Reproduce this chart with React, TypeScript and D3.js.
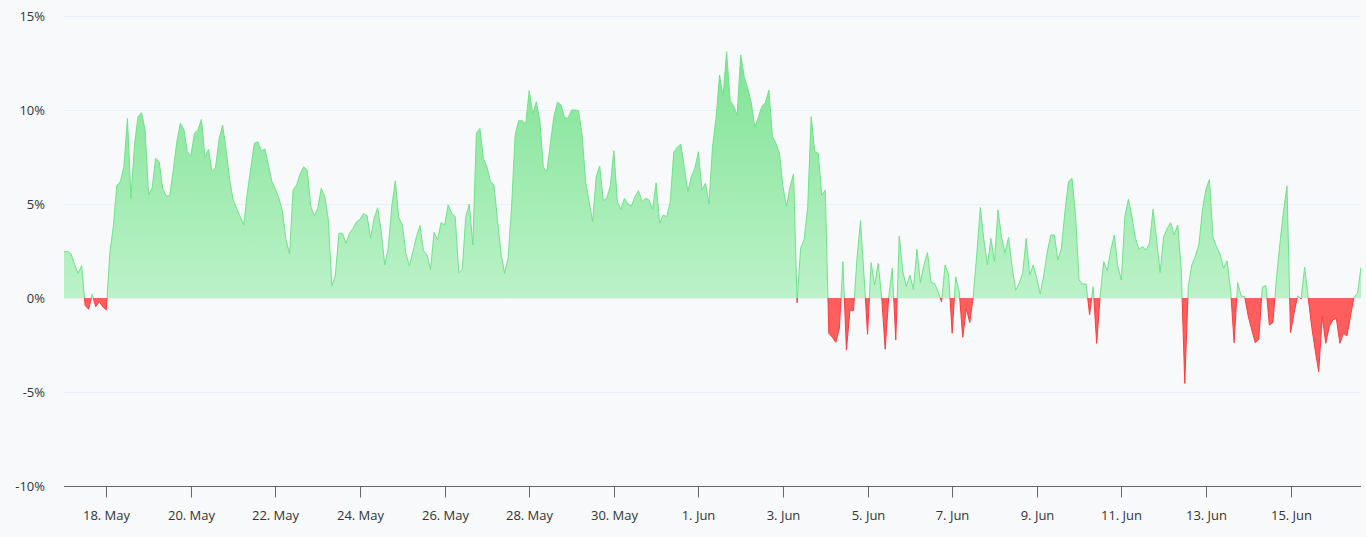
import React, { useEffect, useRef } from "react";
import * as d3 from "d3";

// 2-hourly return (%) readings, one row per day starting 17 May 00:00
const startDate = new Date(2024, 4, 17, 0, 0);
const stepHours = 2;

const dailyReturns: number[][] = [
  [2.46, 2.47, 2.34, 1.8, 1.31, 1.72, -0.4, -0.6, 0.2, -0.46, -0.2, -0.46], // 17 May
  [-0.64, 2.38, 3.8, 6.0, 6.19, 7.0, 9.55, 5.3, 8.14, 9.65, 9.86, 8.94], // 18 May
  [5.48, 5.83, 7.43, 7.25, 5.83, 5.43, 5.44, 6.8, 8.3, 9.29, 8.97, 7.78], // 19 May
  [7.55, 8.76, 8.94, 9.5, 7.48, 7.91, 6.72, 6.95, 8.44, 9.2, 7.87, 6.28], // 20 May
  [5.21, 4.77, 4.33, 3.88, 5.57, 6.9, 8.23, 8.31, 7.82, 7.93, 7.07, 6.19], // 21 May
  [5.78, 5.3, 4.59, 3.09, 2.34, 5.74, 6.01, 6.6, 6.98, 6.8, 4.89, 4.36], // 22 May
  [4.77, 5.83, 5.39, 4.15, 0.64, 1.22, 3.44, 3.44, 2.91, 3.44, 3.7, 4.06], // 23 May
  [4.18, 4.5, 4.36, 3.17, 4.24, 4.8, 3.53, 1.76, 2.64, 4.86, 6.24, 4.27], // 24 May
  [3.88, 2.38, 1.7, 2.46, 3.26, 3.85, 2.52, 2.29, 1.52, 3.49, 3.09, 4.01], // 25 May
  [3.88, 4.95, 4.5, 4.33, 1.35, 1.52, 4.33, 5.0, 2.82, 8.76, 9.02, 7.43], // 26 May
  [6.98, 6.19, 6.01, 4.15, 2.38, 1.31, 2.11, 4.86, 8.67, 9.43, 9.43, 9.26], // 27 May
  [11.03, 9.79, 10.44, 9.47, 6.95, 6.72, 8.23, 9.65, 10.41, 10.27, 9.61, 9.56], // 28 May
  [10.0, 10.0, 9.96, 8.67, 6.19, 5.12, 4.06, 6.45, 7.02, 5.18, 5.3, 5.96], // 29 May
  [7.84, 5.12, 4.72, 5.3, 5.0, 4.89, 5.39, 5.71, 5.12, 5.3, 5.21, 4.72], // 30 May
  [6.13, 3.97, 4.41, 4.33, 5.1, 7.73, 8.01, 8.19, 6.95, 5.66, 6.45, 6.9], // 31 May
  [7.78, 5.74, 6.1, 5.0, 8.05, 9.56, 11.86, 10.74, 13.1, 10.5, 10.21, 9.73], // 1 Jun
  [12.93, 11.77, 11.15, 10.39, 9.08, 9.61, 10.18, 10.39, 11.06, 8.58, 8.23, 7.7], // 2 Jun
  [5.92, 4.86, 5.92, 6.6, -0.25, 2.64, 3.12, 4.8, 9.65, 7.78, 7.7, 5.48], // 3 Jun
  [5.74, -1.88, -2.09, -2.36, -1.61, 1.93, -2.77, -0.64, -0.67, 2.11, 4.11, 1.13], // 4 Jun
  [-1.93, 1.88, 0.69, 1.84, 0.05, -2.73, 0.05, 1.58, -2.23, 3.3, 1.4, 0.6], // 5 Jun
  [1.22, 0.46, 2.59, 0.82, 1.76, 2.41, 0.82, 0.78, 0.34, -0.2, 1.76, 1.22], // 6 Jun
  [-1.88, 1.13, 0.34, -2.09, -0.55, -1.31, 0.1, 2.38, 4.82, 3.09, 1.76, 3.17], // 7 Jun
  [1.93, 4.68, 3.26, 2.38, 3.23, 1.67, 0.41, 0.78, 1.31, 3.17, 1.22, 1.76], // 8 Jun
  [1.05, 0.21, 1.22, 2.46, 3.35, 3.35, 2.02, 2.64, 4.59, 6.19, 6.37, 4.41], // 9 Jun
  [0.96, 0.74, 0.74, -0.9, 0.6, -2.41, 0.1, 1.93, 1.45, 2.55, 3.35, 1.67], // 10 Jun
  [0.96, 4.33, 5.25, 4.33, 3.17, 2.59, 2.73, 2.55, 2.91, 4.72, 3.12, 1.35], // 11 Jun
  [3.26, 3.7, 4.01, 3.35, 3.88, 1.49, -4.54, 0.6, 1.76, 2.23, 2.82, 4.68], // 12 Jun
  [5.78, 6.31, 3.23, 2.73, 2.34, 1.58, 1.98, 0.43, -2.38, 0.82, 0.11, 0.07], // 13 Jun
  [-0.96, -1.7, -2.38, -2.2, 0.57, 0.67, -1.44, -1.31, 1.0, 2.9, 4.6, 5.96], // 14 Jun
  [-1.84, -0.82, 0.11, -0.05, 1.63, 0.05, -1.52, -2.77, -3.92, -0.99, -2.41, -1.52], // 15 Jun
  [-1.17, -1.08, -2.41, -1.88, -2.02, -0.99, 0.04, 0.25, 1.63], // 16 Jun
];

const yTicks = [-10, -5, 0, 5, 10, 15];
const xTickDates = [
  "2024-05-18", "2024-05-20", "2024-05-22", "2024-05-24", "2024-05-26",
  "2024-05-28", "2024-05-30", "2024-06-01", "2024-06-03", "2024-06-05",
  "2024-06-07", "2024-06-09", "2024-06-11", "2024-06-13", "2024-06-15",
];
const endDate = new Date(2024, 5, 16, 16, 0);

interface Point {
  date: Date;
  value: number;
}

export default function App() {
  const svgRef = useRef<SVGSVGElement | null>(null);

  useEffect(() => {
    if (!svgRef.current) return;
    const width = 1366;
    const height = 537;
    const margin = { top: 16, right: 5, bottom: 51, left: 64 };

    const svg = d3.select(svgRef.current);
    svg.selectAll("*").remove();
    svg.attr("width", width).attr("height", height);

    const data: Point[] = dailyReturns.flat().map((v, i) => ({
      date: d3.timeHour.offset(startDate, i * stepHours),
      value: v,
    }));

    const x = d3.scaleTime()
      .domain([startDate, endDate])
      .range([margin.left, width - margin.right]);

    const y = d3.scaleLinear()
      .domain([-10, 15])
      .range([height - margin.bottom, margin.top]);

    svg.append("rect")
      .attr("width", width)
      .attr("height", height)
      .attr("fill", "#f8f9fb");

    // Grid
    svg.append("g")
      .selectAll("line")
      .data(yTicks.filter((t) => t !== -10))
      .join("line")
      .attr("x1", margin.left)
      .attr("x2", width - margin.right)
      .attr("y1", (d) => Math.round(y(d)) + 0.5)
      .attr("y2", (d) => Math.round(y(d)) + 0.5)
      .attr("stroke", "#e6eef8")
      .attr("stroke-width", 1);

    // Y labels
    svg.append("g")
      .selectAll("text")
      .data(yTicks)
      .join("text")
      .attr("x", 45)
      .attr("y", (d) => y(d) + 4.5)
      .attr("text-anchor", "end")
      .attr("fill", "#333")
      .style("font-family", "'Open Sans', 'Noto Sans', sans-serif")
      .style("font-size", "13px")
      .text((d) => `${d}%`);

    const zeroY = y(0);
    const defs = svg.append("defs");

    const grad = defs.append("linearGradient")
      .attr("id", "greenFill")
      .attr("gradientUnits", "userSpaceOnUse")
      .attr("x1", 0).attr("x2", 0)
      .attr("y1", y(13.2)).attr("y2", zeroY);
    grad.append("stop").attr("offset", "0%").attr("stop-color", "#7fe394");
    grad.append("stop").attr("offset", "100%").attr("stop-color", "#bcf2c9");

    defs.append("clipPath").attr("id", "above")
      .append("rect")
      .attr("x", margin.left).attr("y", 0)
      .attr("width", width - margin.left - margin.right)
      .attr("height", zeroY);
    defs.append("clipPath").attr("id", "below")
      .append("rect")
      .attr("x", margin.left).attr("y", zeroY)
      .attr("width", width - margin.left - margin.right)
      .attr("height", height - margin.bottom - zeroY);

    const area = d3.area<Point>()
      .x((d) => x(d.date))
      .y0(zeroY)
      .y1((d) => y(d.value));

    const line = d3.line<Point>()
      .x((d) => x(d.date))
      .y((d) => y(d.value));

    // Positive zone
    svg.append("path")
      .datum(data)
      .attr("clip-path", "url(#above)")
      .attr("fill", "url(#greenFill)")
      .attr("d", area);
    svg.append("path")
      .datum(data)
      .attr("clip-path", "url(#above)")
      .attr("fill", "none")
      .attr("stroke", "#6ee388")
      .attr("stroke-width", 1)
      .attr("stroke-linejoin", "round")
      .attr("d", line);

    // Negative zone
    svg.append("path")
      .datum(data)
      .attr("clip-path", "url(#below)")
      .attr("fill", "#ff5e5e")
      .attr("d", area);
    svg.append("path")
      .datum(data)
      .attr("clip-path", "url(#below)")
      .attr("fill", "none")
      .attr("stroke", "#ff3b3b")
      .attr("stroke-width", 1)
      .attr("stroke-linejoin", "round")
      .attr("d", line);

    // X axis
    const axisY = Math.round(y(-10)) + 0.5;
    svg.append("line")
      .attr("x1", margin.left)
      .attr("x2", width - margin.right)
      .attr("y1", axisY)
      .attr("y2", axisY)
      .attr("stroke", "#666")
      .attr("stroke-width", 1);

    const tickDates = xTickDates.map((s) => d3.timeParse("%Y-%m-%d")(s) as Date);
    const fmt = d3.timeFormat("%-d. %b");
    const ticks = svg.append("g")
      .selectAll("g")
      .data(tickDates)
      .join("g")
      .attr("transform", (d) => `translate(${Math.round(x(d)) + 0.5},0)`);
    ticks.append("line")
      .attr("y1", axisY)
      .attr("y2", axisY + 11)
      .attr("stroke", "#666")
      .attr("stroke-width", 1);
    ticks.append("text")
      .attr("y", 520)
      .attr("text-anchor", "middle")
      .attr("fill", "#333")
      .style("font-family", "'Open Sans', 'Noto Sans', sans-serif")
      .style("font-size", "13px")
      .text((d) => fmt(d));
  }, []);

  return (
    <div style={{ position: "fixed", left: 0, top: 0 }}>
      <svg ref={svgRef} style={{ display: "block" }} />
    </div>
  );
}
